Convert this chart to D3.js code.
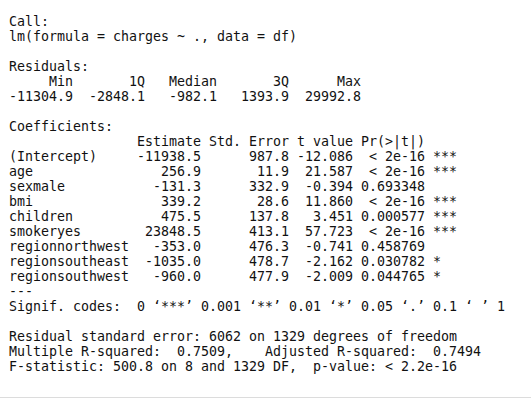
<!DOCTYPE html>
<html><head><meta charset="utf-8">
<script src="https://cdn.jsdelivr.net/npm/d3@7"></script>
<style>body{margin:0;background:#fff}</style></head>
<body><script>
const residLabels = ["Min","1Q","Median","3Q","Max"];
const residValues = ["-11304.9","-2848.1","-982.1","1393.9","29992.8"];
const terms = ["(Intercept)","age","sexmale","bmi","children","smokeryes","regionnorthwest","regionsoutheast","regionsouthwest"];
const estimates = ["-11938.5","256.9","-131.3","339.2","475.5","23848.5","-353.0","-1035.0","-960.0"];
const stdErrors = ["987.8","11.9","332.9","28.6","137.8","413.1","476.3","478.7","477.9"];
const tValues = ["-12.086","21.587","-0.394","11.860","3.451","57.723","-0.741","-2.162","-2.009"];
const pValues = ["< 2e-16","< 2e-16","0.693348","< 2e-16","0.000577","< 2e-16","0.458769","0.030782","0.044765"];
const stars = ["***","***","","***","***","***","","*","*"];

const W=531,H=402;
const svg=d3.select("body").append("svg").attr("width",W).attr("height",H);
svg.append("rect").attr("width",W).attr("height",H).attr("fill","#fff");
svg.append("line").attr("x1",0).attr("x2",W).attr("y1",397.5).attr("y2",397.5).attr("stroke","#dcdcdc");

const lines=[];
lines.push("Call:");
lines.push("lm(formula = charges ~ ., data = df)");
lines.push("");
lines.push("Residuals:");
const rw=d3.max(residValues,v=>v.length);
lines.push(residLabels.map(l=>l.padStart(rw)).join(" "));
lines.push(residValues.map(v=>v.padStart(rw)).join(" "));
lines.push("");
lines.push("Coefficients:");
const nw=d3.max(terms,t=>t.length);
lines.push("".padEnd(nw)+" Estimate Std. Error t value Pr(>|t|)    ");
terms.forEach((t,i)=>{
  lines.push(t.padEnd(nw)+" "+estimates[i].padStart(8)+" "+stdErrors[i].padStart(10)+" "+tValues[i].padStart(7)+" "+pValues[i].padStart(8)+" "+stars[i]);
});
lines.push("---");
lines.push("Signif. codes:  0 \u2018***\u2019 0.001 \u2018**\u2019 0.01 \u2018*\u2019 0.05 \u2018.\u2019 0.1 \u2018 \u2019 1");
lines.push("");
lines.push("Residual standard error: 6062 on 1329 degrees of freedom");
lines.push("Multiple R-squared:  0.7509,    Adjusted R-squared:  0.7494");
lines.push("F-statistic: 500.8 on 8 and 1329 DF,  p-value: < 2.2e-16");

const y=d3.scaleLinear().domain([0,1]).range([21,36]);
svg.append("g").selectAll("text").data(lines).join("text")
  .attr("x",9).attr("y",(d,i)=>y(i)).attr("dy","0.35em")
  .attr("xml:space","preserve").style("white-space","pre")
  .attr("font-family","DejaVu Sans Mono, monospace").attr("font-size",13.2)
  .attr("textLength",d=>d.length?d.length*8:null).attr("lengthAdjust","spacingAndGlyphs")
  .attr("fill","#111").text(d=>d);
</script></body></html>
